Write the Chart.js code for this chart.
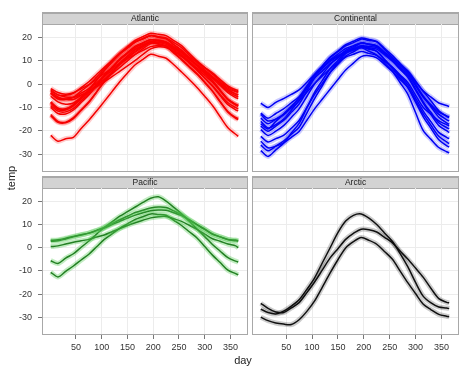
<!DOCTYPE html>
<html><head><meta charset="utf-8">
<script src="https://cdn.jsdelivr.net/npm/chart.js@4/dist/chart.umd.min.js"></script>
<style>
body{margin:0;background:#fff}
#wrap{position:relative;width:474px;height:375px}
canvas{position:absolute;left:0;top:0}
</style></head><body>
<div id="wrap">
<canvas id="c0" width="474" height="375"></canvas>
<canvas id="c1" width="474" height="375"></canvas>
<canvas id="c2" width="474" height="375"></canvas>
<canvas id="c3" width="474" height="375"></canvas>
</div>
<script>
// ---- data (daily mean temperature, deg C) ----
const days = [1,15,30,45,60,75,90,105,120,135,150,165,180,195,210,225,240,255,270,285,300,315,330,345,360,365];
const xTicks = [50,100,150,200,250,300,350];
const yTicks = [-30,-20,-10,0,10,20];
const regions = ["Atlantic","Continental","Pacific","Arctic"];

// Atlantic
const stJohns = [-3.0,-4.6,-5.5,-5.6,-4.6,-3.2,-1.2,1.0,3.2,5.5,7.8,10.2,12.8,15.1,16.0,15.7,14.0,11.8,9.4,6.9,4.8,2.6,0.8,-1.8,-3.2,-3.4];
const halifax = [-3.8,-6.0,-6.4,-5.8,-3.9,-1.9,0.6,3.3,6.0,8.6,11.2,13.7,16.0,17.9,18.5,18.0,16.1,13.8,11.1,8.4,5.7,3.1,0.6,-2.6,-4.3,-4.6];
const sydney = [-3.6,-5.5,-6.5,-6.6,-4.8,-2.9,-0.5,1.8,4.5,7.2,10.0,12.7,15.2,17.4,18.0,17.6,15.6,13.4,10.6,7.9,5.4,2.9,0.4,-2.4,-4.2,-4.5];
const yarmouth = [-1.9,-3.6,-4.3,-3.7,-2.0,-0.2,2.2,4.6,6.8,9.0,10.9,12.8,14.5,16.1,16.6,16.4,15.1,13.8,11.6,9.4,7.1,4.8,2.0,-0.7,-2.4,-2.7];
const charlottetown = [-5.2,-7.6,-8.6,-8.1,-5.8,-3.5,-0.7,2.1,5.2,8.3,11.2,14.1,16.4,18.4,18.6,18.0,15.9,13.6,10.8,8.0,5.3,2.6,-0.6,-3.7,-5.8,-6.2];
const fredericton = [-7.6,-10.3,-10.8,-9.2,-6.3,-3.5,-0.1,3.5,7.0,10.4,13.1,15.7,17.5,19.0,18.9,18.0,15.5,12.9,9.8,6.6,3.7,0.8,-2.9,-6.5,-8.8,-9.3];
const schefferville = [-22.0,-24.5,-23.4,-22.8,-19.0,-15.5,-11.5,-7.4,-3.2,1.0,4.8,8.3,10.6,12.8,12.0,11.1,8.3,5.2,2.0,-1.4,-5.2,-9.2,-14.0,-18.7,-21.5,-22.4];
const arvida = [-13.0,-16.0,-16.3,-14.4,-11.0,-7.6,-3.2,1.3,5.2,9.1,12.1,15.0,16.6,18.0,17.4,16.4,13.6,10.8,7.6,4.5,0.9,-2.9,-7.4,-11.7,-14.3,-14.8];
const bagottville = [-13.5,-16.4,-16.6,-14.8,-11.3,-7.9,-3.5,1.0,4.9,8.8,11.8,14.8,16.3,17.7,17.1,16.2,13.3,10.4,7.3,4.2,0.6,-3.1,-7.7,-12.1,-14.7,-15.2];
const quebec = [-10.0,-12.6,-12.8,-11.1,-7.9,-4.7,-0.6,3.3,7.0,10.8,13.6,16.3,17.8,19.1,18.5,17.6,15.0,12.5,9.3,6.1,2.6,-0.9,-5.0,-8.8,-11.0,-11.5];
const sherbrooke = [-9.2,-11.6,-11.9,-10.4,-7.2,-4.1,-0.1,3.9,7.3,10.8,13.3,15.8,17.0,18.3,17.8,17.1,14.6,12.1,9.0,6.0,2.7,-0.6,-4.4,-8.0,-10.1,-10.6];
const montreal = [-7.8,-10.4,-10.6,-8.8,-5.5,-2.4,1.7,5.7,9.4,13.0,15.5,18.0,19.4,20.8,20.2,19.5,17.0,14.5,11.2,8.0,4.8,1.6,-2.5,-6.4,-8.6,-9.1];
const ottawa = [-8.2,-10.9,-11.1,-9.3,-5.9,-2.7,1.7,5.9,9.5,13.0,15.6,18.1,19.5,20.9,20.1,19.4,16.9,14.4,11.1,7.9,4.6,1.3,-2.8,-6.8,-9.0,-9.5];
const toronto = [-2.4,-4.6,-4.8,-3.9,-1.5,1.0,4.1,7.2,10.2,13.3,16.1,18.8,20.4,21.8,21.4,20.8,18.7,16.5,13.2,10.0,7.1,4.3,1.4,-1.2,-3.0,-3.4];
const london = [-4.0,-6.4,-6.6,-5.6,-3.0,-0.4,3.0,6.5,9.8,13.0,15.6,18.1,19.5,20.8,20.3,19.8,17.8,15.7,12.5,9.3,6.2,3.2,-0.1,-3.1,-5.0,-5.4];

// Continental
const thunderBay = [-13.0,-15.8,-15.0,-13.2,-9.8,-6.0,-1.8,2.5,5.6,8.8,11.2,13.6,15.6,17.6,17.2,16.4,13.8,11.1,8.0,5.0,1.0,-3.1,-7.2,-11.4,-13.8,-14.4];
const winnipeg = [-16.0,-18.8,-17.4,-15.0,-11.2,-7.0,-1.6,3.8,7.7,11.6,14.2,16.9,18.4,19.8,19.2,18.3,15.4,12.4,8.9,5.3,0.0,-5.3,-9.8,-14.2,-16.6,-17.2];
const thePas = [-19.5,-22.0,-20.2,-17.8,-14.3,-10.6,-5.3,0.1,4.2,8.3,11.4,14.5,16.1,17.7,17.0,16.2,13.0,9.9,6.4,2.9,-2.6,-8.2,-13.1,-17.8,-20.0,-20.8];
const churchill = [-24.5,-27.3,-26.6,-25.2,-22.8,-20.3,-15.5,-10.6,-6.4,-2.2,2.0,6.1,9.0,11.8,12.2,11.3,8.4,5.5,2.0,-1.4,-7.1,-12.8,-17.7,-22.4,-24.8,-25.5];
const regina = [-14.6,-17.0,-15.0,-12.8,-9.5,-6.0,-1.0,4.1,7.8,11.4,13.9,16.4,17.8,19.3,18.7,18.1,14.9,11.6,8.3,4.9,-0.2,-5.2,-9.2,-13.0,-15.2,-15.8];
const prAlbert = [-18.0,-20.2,-18.0,-15.6,-12.1,-8.5,-2.9,2.8,6.7,10.5,12.9,15.3,16.5,17.6,17.1,16.4,13.4,10.3,7.0,3.6,-2.0,-7.6,-12.2,-16.6,-18.6,-19.2];
const uraniumCity = [-22.4,-24.8,-23.4,-22.0,-18.9,-15.6,-10.0,-4.4,0.3,5.0,8.5,12.0,13.9,15.7,15.0,14.1,10.7,7.2,3.5,-0.3,-6.0,-11.6,-16.2,-20.7,-22.8,-23.4];
const edmonton = [-12.4,-14.6,-12.6,-10.6,-8.0,-5.4,-0.9,3.7,7.0,10.2,12.1,14.0,15.0,16.0,15.6,15.0,12.6,10.1,7.2,4.2,-0.7,-5.6,-8.9,-12.0,-13.6,-14.0];
const calgary = [-8.2,-10.0,-7.8,-6.2,-4.4,-2.5,0.8,4.1,6.9,9.7,11.9,14.0,15.2,16.4,16.1,15.7,13.1,10.6,8.2,5.7,1.4,-3.0,-5.6,-8.1,-9.2,-9.6];
const yellowknife = [-26.2,-28.6,-26.6,-24.4,-21.5,-18.5,-12.4,-6.2,-0.6,5.0,9.1,13.1,14.8,16.5,15.3,14.1,10.4,6.7,2.7,-1.4,-7.7,-14.0,-19.0,-23.9,-26.4,-27.0];
const whitehorse = [-17.0,-19.2,-16.0,-13.0,-10.2,-7.2,-3.5,0.3,3.5,6.6,9.1,11.6,12.8,14.0,13.2,12.3,9.8,7.3,4.0,0.7,-4.7,-10.0,-13.0,-15.8,-17.4,-17.9];
const dawson = [-28.5,-31.0,-28.2,-25.4,-21.0,-16.8,-10.2,-3.5,1.6,6.6,10.1,13.5,14.6,15.6,14.1,12.5,9.1,5.6,0.7,-4.3,-12.2,-20.0,-23.7,-27.2,-29.0,-29.5];

// Pacific
const vancouver = [2.8,3.0,3.8,4.7,5.5,6.3,7.5,8.8,10.4,12.1,13.6,15.2,16.2,17.2,17.6,17.4,15.9,14.3,12.1,10.0,8.0,6.0,4.7,3.5,3.0,2.8];
const victoria = [3.2,3.4,4.1,4.9,5.6,6.3,7.4,8.5,10.0,11.4,12.8,14.1,15.1,16.0,16.3,16.2,15.1,13.9,11.9,9.9,7.9,5.8,4.7,3.6,3.3,3.1];
const prRupert = [0.5,0.8,1.6,2.4,3.0,3.6,4.6,5.5,6.9,8.3,9.6,10.8,11.9,12.9,13.4,13.5,12.5,11.4,9.7,7.9,5.9,3.9,2.8,1.6,0.8,0.0];
const kamloops = [-5.6,-6.8,-4.5,-2.6,0.2,2.9,5.9,8.8,11.2,13.6,15.6,17.6,19.6,21.4,22.0,20.1,17.4,14.7,11.4,8.1,4.8,1.4,-1.5,-4.3,-5.8,-6.2];
const prGeorge = [-10.6,-12.6,-10.2,-7.9,-5.3,-2.8,0.4,3.6,6.0,8.4,10.3,12.2,13.4,14.6,14.4,14.0,11.8,9.6,6.9,4.2,0.5,-3.2,-6.4,-9.7,-11.2,-11.7];

// Arctic
const inuvik = [-26.5,-28.0,-28.6,-27.4,-25.2,-22.5,-18.0,-13.0,-6.5,0.0,6.5,11.5,14.0,14.6,12.8,10.0,6.4,2.8,-2.4,-8.2,-15.0,-21.0,-23.8,-25.6,-26.0,-26.3];
const iqaluit = [-24.0,-26.2,-27.8,-28.0,-26.0,-23.7,-19.4,-14.8,-9.6,-4.4,-0.4,3.6,6.2,8.0,7.8,6.8,4.5,2.2,-1.4,-4.9,-8.8,-12.8,-17.6,-22.0,-23.6,-23.8];
const resolute = [-30.0,-31.5,-32.5,-33.0,-33.2,-31.1,-27.5,-23.0,-17.0,-10.9,-5.2,-0.1,2.6,4.4,3.2,1.5,-1.6,-4.9,-10.0,-15.1,-19.8,-24.4,-26.8,-28.8,-29.6,-29.8];

const atlanticSeries = [stJohns,halifax,sydney,yarmouth,charlottetown,fredericton,schefferville,arvida,bagottville,quebec,sherbrooke,montreal,ottawa,toronto,london];
const continentalSeries = [thunderBay,winnipeg,thePas,churchill,regina,prAlbert,uraniumCity,edmonton,calgary,yellowknife,whitehorse,dawson];
const pacificSeries = [vancouver,victoria,prRupert,kamloops,prGeorge];
const arcticSeries = [inuvik,iqaluit,resolute];

// ---- styling / layout ----
const FONT = "'Liberation Sans', Arial, sans-serif";
const panels = [
  {title:"Atlantic", series:atlanticSeries, line:"#f00000", halo:"rgba(255,0,0,0.2)",
   pad:{left:0,top:24,right:226,bottom:203}, yw:42, xh:0, showY:true, showX:false},
  {title:"Continental", series:continentalSeries, line:"#0000f0", halo:"rgba(0,0,255,0.2)",
   pad:{left:252,top:24,right:15,bottom:203}, yw:0, xh:0, showY:false, showX:false},
  {title:"Pacific", series:pacificSeries, line:"#0b5a0b", halo:"rgba(80,200,80,0.35)",
   pad:{left:0,top:188,right:226,bottom:0}, yw:42, xh:40, showY:true, showX:true},
  {title:"Arctic", series:arcticSeries, line:"#151515", halo:"rgba(0,0,0,0.2)",
   pad:{left:252,top:188,right:15,bottom:0}, yw:0, xh:40, showY:false, showX:true}
];

const panelPlugin = {
  id: 'panelFrame',
  beforeDraw(chart, args, o) {
    const a = chart.chartArea, ctx = chart.ctx;
    ctx.save();
    ctx.fillStyle = '#d3d3d3';
    ctx.fillRect(a.left, a.top - 11.5, a.right - a.left, 11.5);
    ctx.strokeStyle = '#a8a8a8';
    ctx.lineWidth = 1;
    ctx.strokeRect(Math.round(a.left)+0.5, Math.round(a.top-11.5)+0.5, Math.round(a.right-a.left)-1, 11);
    ctx.fillStyle = '#222';
    ctx.font = '8.5px ' + FONT;
    ctx.textAlign = 'center';
    ctx.textBaseline = 'middle';
    ctx.fillText(o.title, (a.left + a.right)/2, a.top - 5.5);
    ctx.restore();
  },
  afterDraw(chart, args, o) {
    const a = chart.chartArea, ctx = chart.ctx;
    ctx.save();
    ctx.strokeStyle = '#a8a8a8';
    ctx.lineWidth = 1;
    ctx.strokeRect(Math.round(a.left)+0.5, Math.round(a.top-12)+0.5, Math.round(a.right-a.left)-1, Math.round(a.bottom-a.top+12)-1);
    if (o.axisTitles) {
      ctx.fillStyle = '#222';
      ctx.font = '11px ' + FONT;
      ctx.textAlign = 'center';
      ctx.textBaseline = 'middle';
      ctx.fillText('day', 243, 361);
      ctx.translate(12, 178);
      ctx.rotate(-Math.PI/2);
      ctx.fillText('temp', 0, 0);
    }
    ctx.restore();
  }
};

panels.forEach((p, i) => {
  const datasets = [];
  p.series.forEach(s => {
    datasets.push({data: days.map((d,k)=>({x:d,y:s[k]})), borderColor:p.halo, borderWidth:5,
      pointRadius:0, tension:0.3, fill:false});
  });
  p.series.forEach(s => {
    datasets.push({data: days.map((d,k)=>({x:d,y:s[k]})), borderColor:p.line, borderWidth:1.5,
      pointRadius:0, tension:0.3, fill:false});
  });
  new Chart(document.getElementById('c'+i), {
    type:'line',
    data:{datasets},
    plugins:[panelPlugin],
    options:{
      responsive:false, animation:false, devicePixelRatio:1,
      layout:{padding:p.pad},
      plugins:{legend:{display:false}, tooltip:{enabled:false},
        panelFrame:{title:p.title, axisTitles:i===2}},
      scales:{
        x:{type:'linear', min:-16, max:384,
          afterBuildTicks:s=>{s.ticks = xTicks.map(v=>({value:v}));},
          afterFit:s=>{s.height = p.xh;},
          grid:{color:'#ececec', drawTicks:p.showX, tickLength:4, tickColor:'#777'},
          border:{display:false},
          ticks:{display:p.showX, font:{family:FONT,size:9}, color:'#333', padding:3, maxRotation:0, autoSkip:false}},
        y:{type:'linear', min:-37.7, max:25.8,
          afterBuildTicks:s=>{s.ticks = yTicks.map(v=>({value:v}));},
          afterFit:s=>{s.width = p.yw;},
          grid:{color:'#ececec', drawTicks:p.showY, tickLength:4, tickColor:'#777'},
          border:{display:false},
          ticks:{display:p.showY, font:{family:FONT,size:9}, color:'#333', padding:6}}
      }
    }
  });
});
</script>
</body></html>
